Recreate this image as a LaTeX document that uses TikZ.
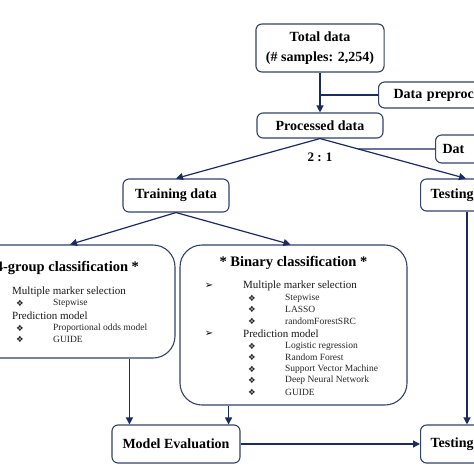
\documentclass[tikz,border=0pt]{standalone}
\usepackage{fontspec}
\setmainfont{Liberation Serif}
\newfontfamily\dingfont{DejaVu Sans}
\usetikzlibrary{positioning, arrows.meta, calc}
\definecolor{boxblue}{RGB}{52,66,104}
\definecolor{arrowblue}{RGB}{28,42,98}

\begin{document}
\begin{tikzpicture}[x=1pt, y=-1pt,
    box/.style={draw=boxblue, line width=1.1pt, rounded corners=6pt, fill=white, inner xsep=10pt, font=\bfseries\fontsize{14}{20}\selectfont},
    cutbox/.style={box, anchor=west, text width=90pt, align=left},
    bigbox/.style={draw=boxblue, line width=1.1pt, rounded corners=22pt},
    heading/.style={font=\bfseries\fontsize{14.5}{17}\selectfont},
    item/.style={anchor=west, inner sep=0pt, text=black!90, font=\fontsize{11}{13}\selectfont},
    subitem/.style={anchor=west, inner sep=0pt, text=black!85, font=\fontsize{9.5}{11}\selectfont},
    pointer/.style={inner sep=0pt, text=black, font=\dingfont\fontsize{10}{11}\selectfont},
    diamondbullet/.style={inner sep=0pt, text=black!85, font=\dingfont\fontsize{8.5}{9}\selectfont},
    arrow/.style={-{Triangle[length=7pt, width=7pt]}, line width=1.2pt, draw=arrowblue},
    link/.style={line width=1.2pt, draw=arrowblue}
]

\path[fill=white] (0,0) rectangle (474,474);
\useasboundingbox (0,0) rectangle (474,474);
\clip (0,0) rectangle (474,474);

% Data flow at the top
\node[box, minimum width=126pt, minimum height=48pt, align=center] (total) at (320,48) {Total data\\(\# samples: 2,254)};
\node[cutbox, minimum height=26pt, inner xsep=15pt] (preproc) at (378,95) {Data preproc};
\node[box, minimum width=126pt, minimum height=25pt] (processed) at (320,125.5) {Processed data};
\node[cutbox, minimum height=28pt, inner xsep=7pt] (dat) at (435,149) {Dat};
\node[font=\bfseries\fontsize{13}{15}\selectfont, below=11pt of processed] (ratio) {2 : 1};

% Split
\node[box, minimum width=106pt, minimum height=33pt] (training) at (176,195.5) {Training data};
\node[cutbox, minimum height=32pt] (testingdata) at (420,195) {Testing};

% Classification boxes
\node[bigbox, minimum width=226pt, minimum height=113pt] (fourgroup) at (62,301.5) {};
\node[bigbox, minimum width=227pt, minimum height=160pt] (binary) at (293.5,325) {};
\node[heading] (fourtitle) at (62,268) {* 4-group classification *};
\node[heading] (bintitle) at (293.5,263) {* Binary classification *};

% 4-group items
\node[item] (fsel) at (12,292) {Multiple marker selection};
\node[diamondbullet] (fd0) at (20,303) {❖};
\node[subitem] (fs0) at (53,303) {Stepwise};
\node[item] (fpred) at (12,316) {Prediction model};
\foreach \txt [count=\k from 0] in {Proportional odds model, GUIDE} {
    \node[diamondbullet] (fpd\k) at (20,{328+11.5*\k}) {❖};
    \node[subitem] (fp\k) at (53,{328+11.5*\k}) {\txt};
}

% Binary items
\node[pointer] (bp1) at (209,286) {➢};
\node[item] (bsel) at (243,286) {Multiple marker selection};
\foreach \txt [count=\k from 0] in {Stepwise, LASSO, randomForestSRC} {
    \node[diamondbullet] (bsd\k) at (252,{298+11.8*\k}) {❖};
    \node[subitem] (bs\k) at (285,{298+11.8*\k}) {\txt};
}
\node[pointer] (bp2) at (209,334) {➢};
\node[item] (bpred) at (243,334) {Prediction model};
\foreach \txt [count=\k from 0] in {Logistic regression, Random Forest, Support Vector Machine, Deep Neural Network, GUIDE} {
    \node[diamondbullet] (bpd\k) at (252,{346+11.5*\k}) {❖};
    \node[subitem] (bm\k) at (285,{346+11.5*\k}) {\txt};
}

% Bottom row
\node[box, minimum width=128pt, minimum height=38pt] (evaluation) at (176,444) {Model Evaluation};
\node[cutbox, minimum height=38pt] (testing) at (420,444) {Testing};

% Connections
\draw[arrow] (total.south) -- (processed.north);
\draw[link] (preproc.west) -- (preproc.west -| total.south);
\coordinate (tdtop) at ([xshift=46pt]testingdata.north west);
\coordinate (tdbot) at ([xshift=47pt]testingdata.south west);
\draw[arrow] (processed.south) -- (training.north);
\draw[arrow] (processed.south) -- (tdtop);
\draw[link] (dat.west) -- (intersection of processed.south--tdtop and dat.west--dat.east);
\draw[arrow] (training.south) -- ([xshift=8pt]fourgroup.north);
\draw[arrow] (training.south) -- ([xshift=-3pt]binary.north);
\coordinate (ev1) at ([xshift=18pt]evaluation.north west);
\coordinate (ev2) at ([xshift=-12pt]evaluation.north east);
\draw[arrow] (fourgroup.south -| ev1) -- (ev1);
\draw[arrow] (binary.south -| ev2) -- (ev2);
\draw[arrow] (tdbot) -- (tdbot |- testing.north);
\draw[arrow] (evaluation.east) -- (testing.west);

\end{tikzpicture}
\end{document}
